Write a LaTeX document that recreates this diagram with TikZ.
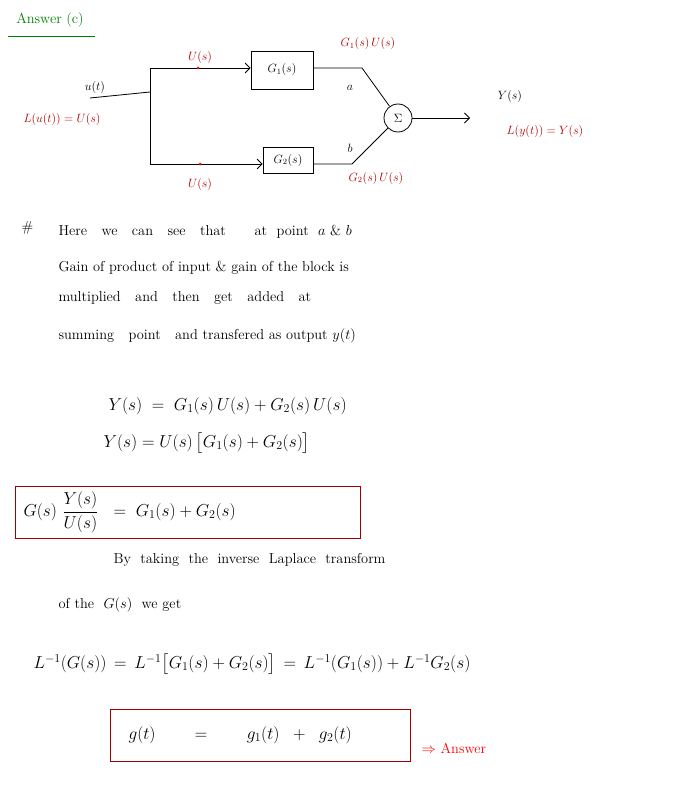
\documentclass[tikz,border=0pt]{standalone}
\usepackage{amsmath}
\usetikzlibrary{arrows.meta}
\begin{document}
\begin{tikzpicture}[x=1pt,y=-1pt,
  blk/.style={draw,thick,minimum width=62pt,minimum height=38pt,inner sep=1pt,font=\large},
  wire/.style={thick},
  rtxt/.style={text=red!70!black,font=\large},
  lbl/.style={font=\large},
  txt/.style={anchor=west,font=\Large},
  eq/.style={anchor=west,font=\LARGE},
  arr/.style={thick,-{Straight Barb[length=5pt]}}]
\useasboundingbox (0,0) rectangle (677,797);
\node[green!50!black,font=\Large] (ans) at (50,20) {Answer (c)};
\draw[green!50!black] (8,36) -- (95,36);
\node[blk] (g1) at (282,70) {$G_1(s)$};
\node[blk,minimum width=50pt,minimum height=26pt] (g2) at (288,160) {$G_2(s)$};
\node[draw,thick,circle,minimum size=28pt,inner sep=0,font=\large] (sum) at (398,118) {$\Sigma$};
\coordinate (bp) at (150,92);
\coordinate (bt) at (150,68);
\coordinate (bb) at (150,164);
\coordinate (in) at (90,98);
\coordinate (out) at (470,118);
\draw[wire] (in) -- (bp);
\draw[wire] (bt) -- (bb);
\draw[arr] (bt) -- (g1.west|-bt);
\draw[arr] (bb) -- (g2.west|-bb);
\draw[wire] (g1.east|-bt) -- (362,68) coordinate (ua) -- (sum);
\draw[wire] (g2.east|-bb) -- (352,164) coordinate (ub) -- (sum);
\draw[arr] (sum) -- (out);
\fill[red] (198,68) circle (1.5) (200,164) circle (1.5);
\node[rtxt] (us1) at (200,58) {$U(s)$};
\node[rtxt] (us2) at (200,184) {$U(s)$};
\node[rtxt] (g1u) at (368,44) {$G_1(s)\,U(s)$};
\node[lbl] (a) at (350,88) {$a$};
\node[lbl] (b) at (350,148) {$b$};
\node[rtxt] (g2u) at (376,178) {$G_2(s)\,U(s)$};
\node[lbl] (ut) at (95,88) {$u(t)$};
\node[rtxt] (lu) at (62,120) {$L(u(t))=U(s)$};
\node[lbl] (ys) at (510,97) {$Y(s)$};
\node[rtxt] (ly) at (545,132) {$L(y(t))=Y(s)$};
\node[txt] (t0) at (18,228) {\#};
\node[txt] (t1) at (55,232) {Here\quad we\quad can\quad see\quad that\qquad at\ \ point\ \ $a$ \& $b$};
\node[txt] (t2) at (55,268) {Gain of product of input \& gain of the block is};
\node[txt] (t3) at (55,298) {multiplied\quad and\quad then\quad get\quad added\quad at};
\node[txt] (t4) at (55,336) {summing\quad point\quad and transfered as output $y(t)$};
\node[eq] (e1) at (105,406) {$Y(s)\;=\;G_1(s)\,U(s)+G_2(s)\,U(s)$};
\node[eq] (e2) at (100,443) {$Y(s)=U(s)\,\big[G_1(s)+G_2(s)\big]$};
\node[draw=red!60!black,thick,minimum width=345pt,minimum height=52pt] (bx1) at (188,512) {};
\node[eq] (e3) at (20,512) {$G(s)\ \dfrac{Y(s)}{U(s)}\ \ =\;G_1(s)+G_2(s)$};
\node[txt] (t5) at (110,560) {By\ \ taking\ \ the\ \ inverse\ \ Laplace\ \ transform};
\node[txt] (t6) at (55,605) {of the\ \ $G(s)$\ \ we get};
\node[eq] (e4) at (30,664) {$L^{-1}(G(s))\,=\,L^{-1}\big[G_1(s)+G_2(s)\big]\,=\,L^{-1}(G_1(s))+L^{-1}G_2(s)$};
\node[draw=red!60!black,thick,minimum width=300pt,minimum height=52pt] (bx2) at (260,735) {};
\node[eq] (e5) at (125,735) {$g(t)\qquad=\qquad g_1(t)\;\;+\;\;g_2(t)$};
\node[red,font=\Large,anchor=west] (aw) at (418,748) {$\Rightarrow$ Answer};
\end{tikzpicture}
\end{document}
